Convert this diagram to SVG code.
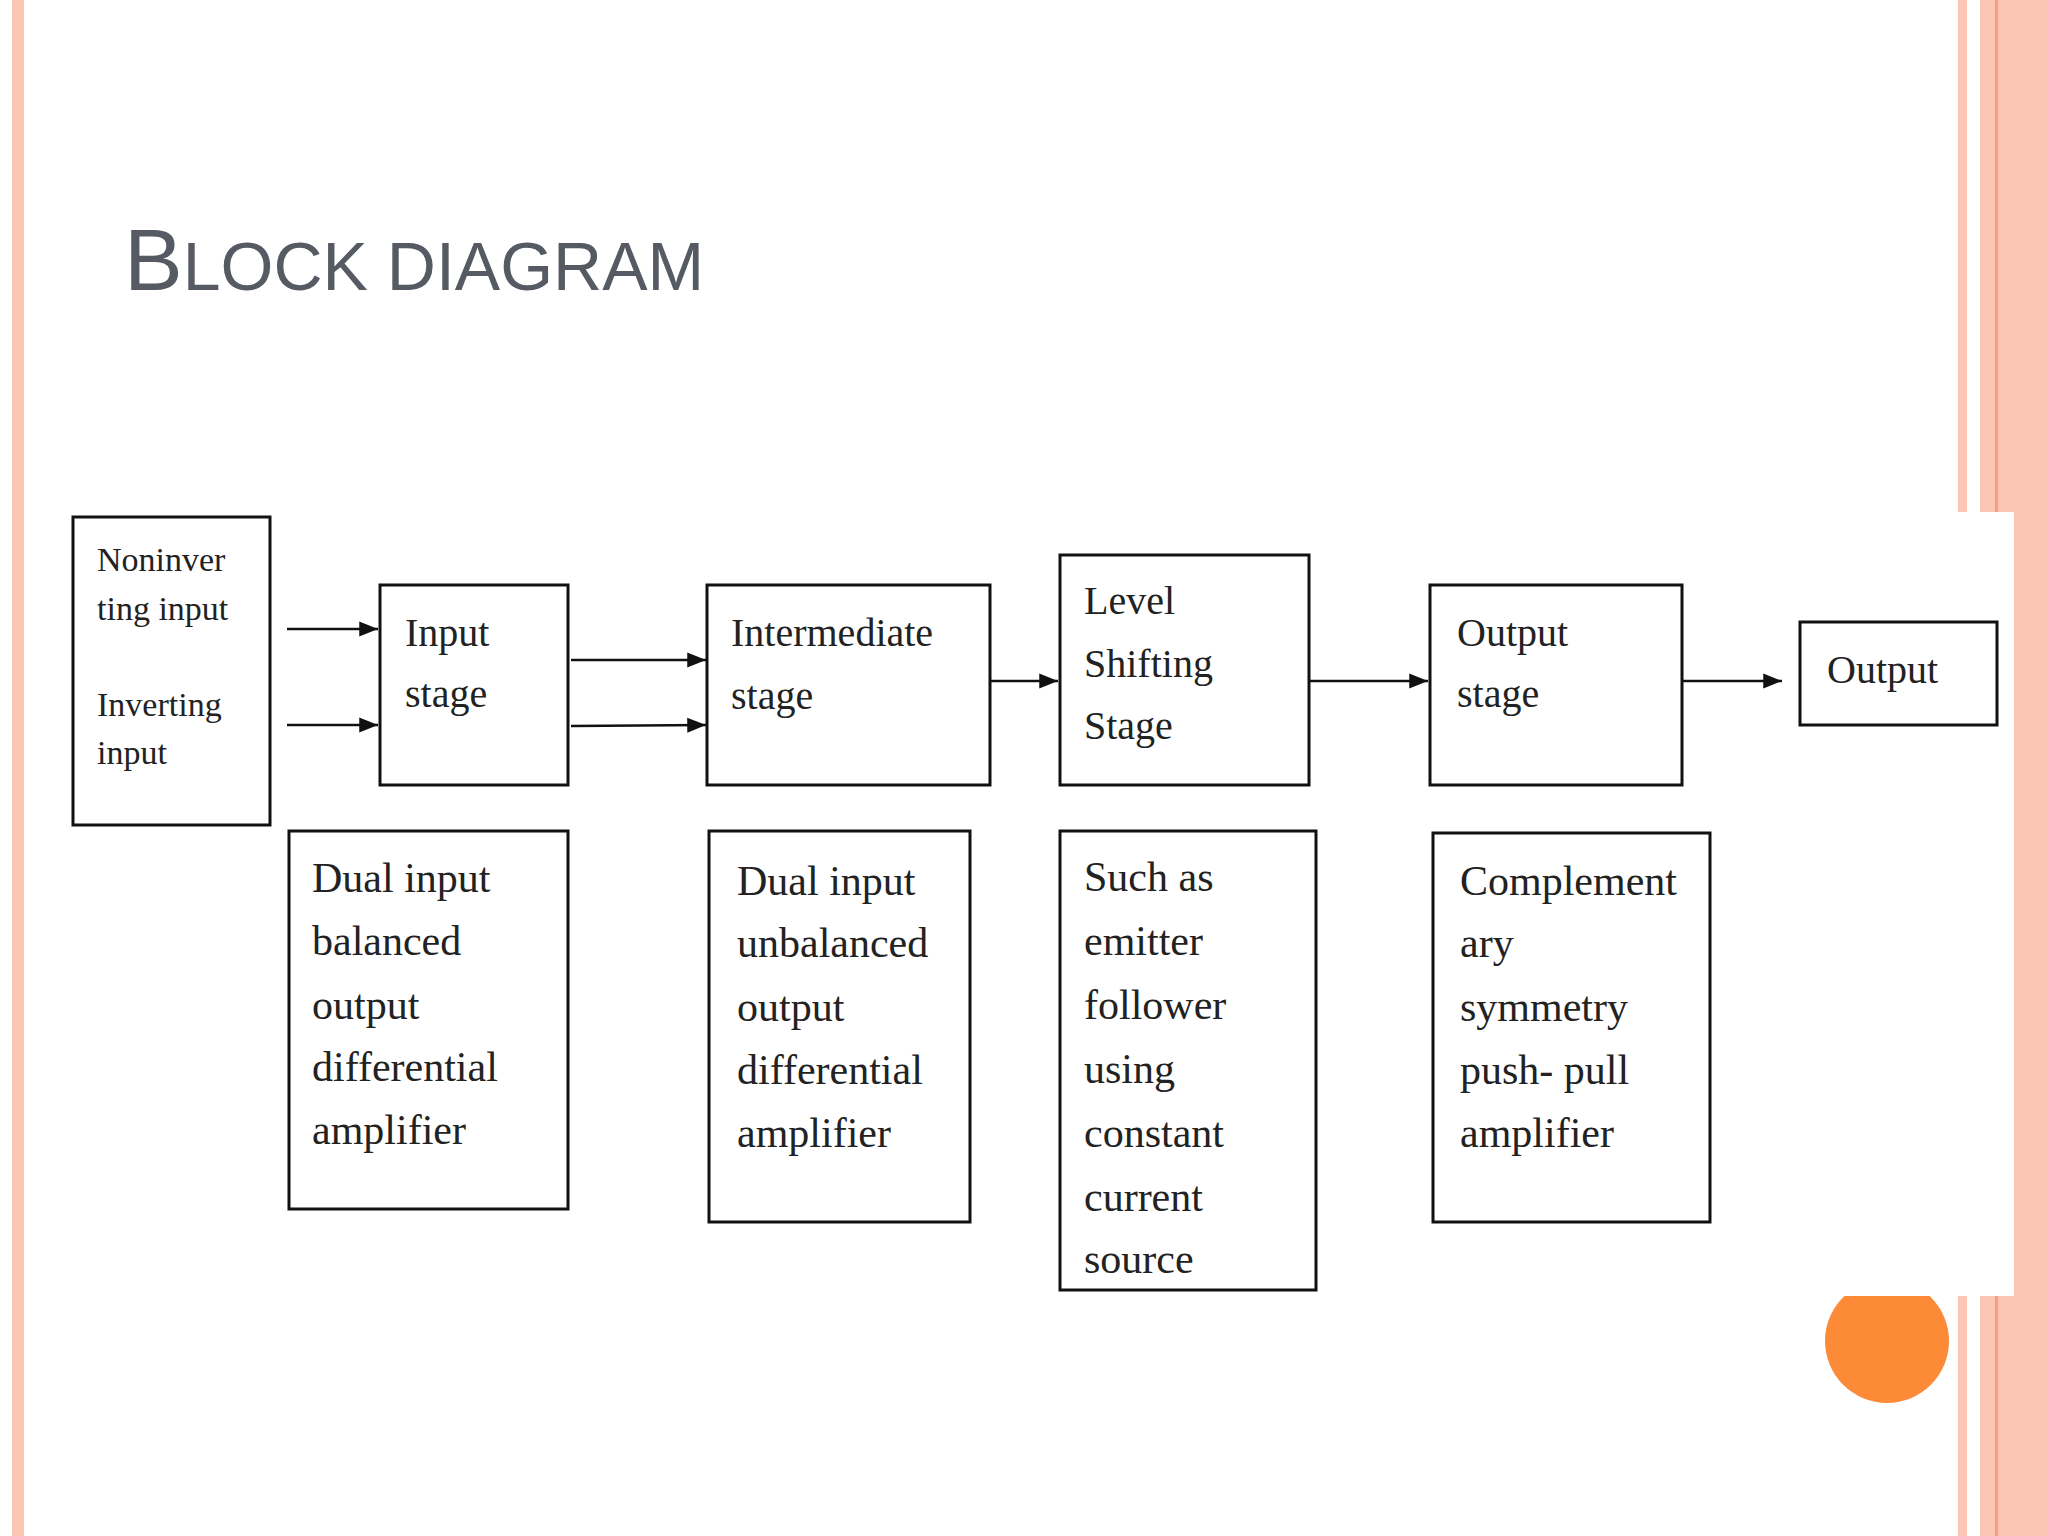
<svg xmlns="http://www.w3.org/2000/svg" width="2048" height="1536" viewBox="0 0 2048 1536">
<style>
.b{fill:none;stroke:#111;stroke-width:3}
.t{font-family:"Liberation Serif","Times New Roman",serif;fill:#222}
.c line{stroke:#111;stroke-width:2.5;marker-end:url(#ah)}
</style>
<defs><marker id="ah" viewBox="0 0 10 10" refX="10" refY="5" markerWidth="7.5" markerHeight="7.5" orient="auto" markerUnits="strokeWidth"><path d="M0,1 L10,5 L0,9 z" fill="#111"/></marker></defs>
<rect width="2048" height="1536" fill="#fff"/>
<rect x="12" y="0" width="12" height="1536" fill="#fbc6b3"/>
<rect x="1958" y="0" width="9" height="1536" fill="#fbc6b3"/>
<rect x="1980" y="0" width="68" height="1536" fill="#fbc6b3"/>
<rect x="1995" y="0" width="3" height="1536" fill="#f7a07a"/>
<circle cx="1887" cy="1341" r="62" fill="#fd8a37"/>
<rect x="40" y="512" width="1974" height="784" fill="#fff"/>
<text x="124" y="290" font-family="Liberation Sans,Arial,sans-serif" fill="#555a63"><tspan font-size="88">B</tspan><tspan font-size="68">LOCK DIAGRAM</tspan></text>
<g id="inputs"><rect class="b" x="73" y="517" width="197" height="308"/>
<text class="t" font-size="34"><tspan x="97" y="571">Noninver</tspan><tspan x="97" y="620">ting input</tspan><tspan x="97" y="716">Inverting</tspan><tspan x="97" y="764">input</tspan></text></g>
<g id="input-stage"><rect class="b" x="380" y="585" width="188" height="200"/>
<text class="t" font-size="40"><tspan x="405" y="646">Input</tspan><tspan x="405" y="707">stage</tspan></text></g>
<g id="intermediate"><rect class="b" x="707" y="585" width="283" height="200"/>
<text class="t" font-size="40"><tspan x="731" y="646">Intermediate</tspan><tspan x="731" y="709">stage</tspan></text></g>
<g id="level"><rect class="b" x="1060" y="555" width="249" height="230"/>
<text class="t" font-size="40"><tspan x="1084" y="614">Level</tspan><tspan x="1084" y="677">Shifting</tspan><tspan x="1084" y="739">Stage</tspan></text></g>
<g id="output-stage"><rect class="b" x="1430" y="585" width="252" height="200"/>
<text class="t" font-size="40"><tspan x="1457" y="646">Output</tspan><tspan x="1457" y="707">stage</tspan></text></g>
<g id="output"><rect class="b" x="1800" y="622" width="197" height="103"/>
<text class="t" font-size="40" x="1827" y="683">Output</text></g>
<g id="desc1"><rect class="b" x="289" y="831" width="279" height="378"/>
<text class="t" font-size="42"><tspan x="312" y="892">Dual input</tspan><tspan x="312" y="955">balanced</tspan><tspan x="312" y="1019">output</tspan><tspan x="312" y="1081">differential</tspan><tspan x="312" y="1144">amplifier</tspan></text></g>
<g id="desc2"><rect class="b" x="709" y="831" width="261" height="391"/>
<text class="t" font-size="42"><tspan x="737" y="895">Dual input</tspan><tspan x="737" y="957">unbalanced</tspan><tspan x="737" y="1021">output</tspan><tspan x="737" y="1084">differential</tspan><tspan x="737" y="1147">amplifier</tspan></text></g>
<g id="desc3"><rect class="b" x="1060" y="831" width="256" height="459"/>
<text class="t" font-size="42"><tspan x="1084" y="891">Such as</tspan><tspan x="1084" y="955">emitter</tspan><tspan x="1084" y="1019">follower</tspan><tspan x="1084" y="1083">using</tspan><tspan x="1084" y="1147">constant</tspan><tspan x="1084" y="1211">current</tspan><tspan x="1084" y="1273">source</tspan></text></g>
<g id="desc4"><rect class="b" x="1433" y="833" width="277" height="389"/>
<text class="t" font-size="42"><tspan x="1460" y="895">Complement</tspan><tspan x="1460" y="957">ary</tspan><tspan x="1460" y="1021">symmetry</tspan><tspan x="1460" y="1084">push- pull</tspan><tspan x="1460" y="1147">amplifier</tspan></text></g>
<g class="c" id="connectors">
<line x1="287" y1="629" x2="378" y2="629"/>
<line x1="287" y1="725" x2="378" y2="725"/>
<line x1="571" y1="660" x2="706" y2="660"/>
<line x1="571" y1="726" x2="706" y2="725"/>
<line x1="990" y1="681" x2="1058" y2="681"/>
<line x1="1309" y1="681" x2="1428" y2="681"/>
<line x1="1682" y1="681" x2="1782" y2="681"/>
</g>
</svg>
